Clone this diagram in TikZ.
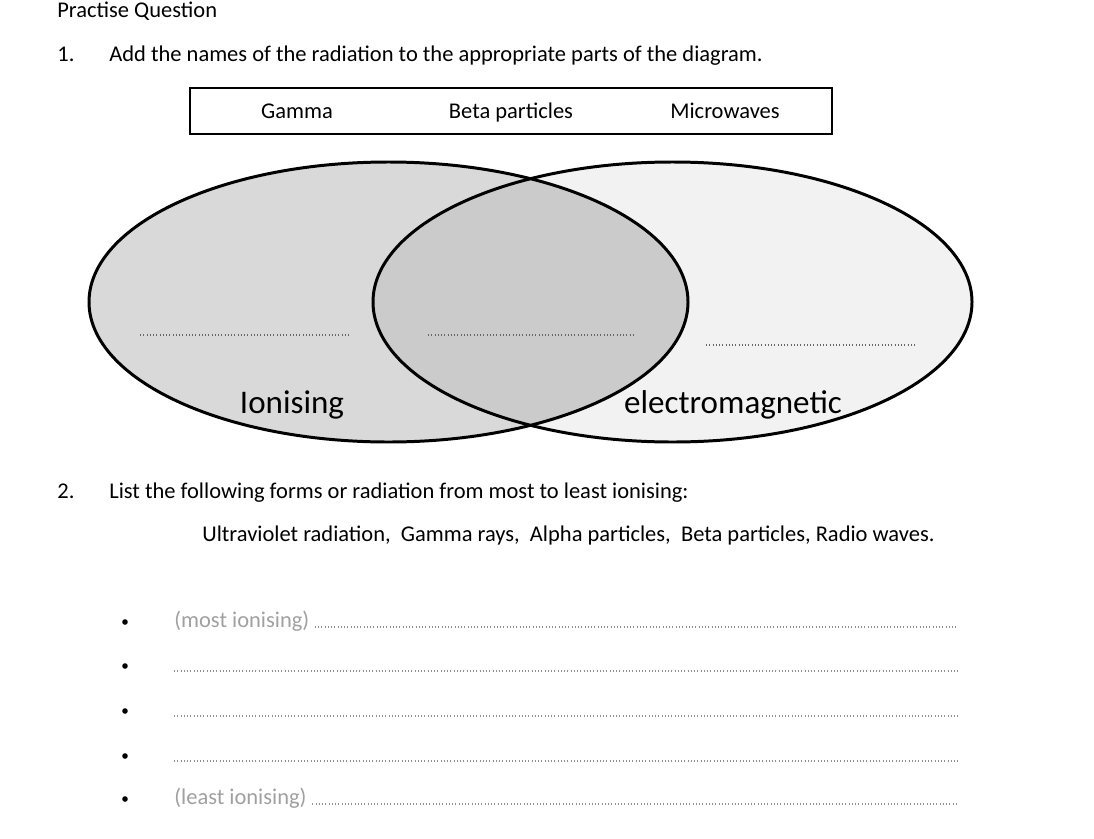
\documentclass[tikz,border=0pt]{standalone}
\usepackage{fontspec}
\setmainfont{Carlito}
\definecolor{leftset}{HTML}{D9D9D9}
\definecolor{rightset}{HTML}{F2F2F2}
\definecolor{overlapset}{HTML}{CBCBCB}
\definecolor{hintgray}{HTML}{A0A0A0}
\newcommand{\setcentres}{%
  \coordinate (L) at (388.5,302);
  \coordinate (R) at (672.5,302);
}
\def\answerrows{622,666,711,756,799}
\tikzset{
  qtext/.style={anchor=base west, inner sep=0pt, font=\fontsize{12.8}{15}\selectfont},
  boxlabel/.style={anchor=base, inner sep=0pt, font=\fontsize{12.8}{15}\selectfont},
  setlabel/.style={anchor=base, inner sep=0pt, font=\fontsize{18.8}{22}\selectfont},
  hint/.style={qtext, text=hintgray},
  choicebox/.style={draw=black, line width=1.1pt, minimum width=12.84cm, minimum height=0.92cm, inner sep=0pt},
  setline/.style={black, line width=1.7pt},
  answerline/.style={black!60, line width=0.7pt, dash pattern=on 0.55pt off 1.3pt},
  blank/.style={hintgray!90!black, line width=0.7pt, dash pattern=on 0.55pt off 1.3pt},
}

\begin{document}
\begin{tikzpicture}[x=0.02cm, y=-0.02cm]
  \useasboundingbox (0,0) rectangle (1094,838);

  % ---------------- question 1 ----------------
  \node[qtext] (title) at (57,18) {Practise Question};
  \node[qtext] (num1) at (57,62) {1.};
  \node[qtext] (q1) at (109,62) {Add the names of the radiation to the appropriate parts of the diagram.};

  \node[choicebox] (choices) at (511,111) {};
  \node[boxlabel] (gamma) at (297,118) {Gamma};
  \node[boxlabel] (beta) at (511,118) {Beta particles};
  \node[boxlabel] (micro) at (725,118) {Microwaves};

  % venn diagram
  \setcentres
  \fill[rightset] (R) ellipse [x radius=299.5, y radius=140];
  \fill[leftset] (L) ellipse [x radius=299.5, y radius=140];
  \begin{scope}
    \clip (L) ellipse [x radius=299.5, y radius=140];
    \fill[overlapset] (R) ellipse [x radius=299.5, y radius=140];
  \end{scope}
  \draw[setline] (L) ellipse [x radius=299.5, y radius=140];
  \draw[setline] (R) ellipse [x radius=299.5, y radius=140];

  \draw[answerline] (140,335) -- (351,335);
  \draw[answerline] (428,335) -- (635,335);
  \draw[answerline] (706,345) -- (915,345);

  \node[setlabel] (ionising) at (292,413) {Ionising};
  \node[setlabel] (em) at (733,413) {electromagnetic};

  % ---------------- question 2 ----------------
  \node[qtext] (num2) at (57,498) {2.};
  \node[qtext] (q2) at (109,498) {List the following forms or radiation from most to least ionising:};
  \node[qtext] (forms) at (202,541) {Ultraviolet radiation,\ \ Gamma rays,\ \ Alpha particles,\ \ Beta particles, Radio waves.};

  \foreach \y [count=\i] in \answerrows {
    \fill[black] (125,\y) circle (2.8);
    \coordinate (start\i) at (174,\y+5);
    \coordinate (end\i) at (958,\y+5);
  }
  \node[hint] (most) at (start1) {(most ionising)};
  \node[hint] (least) at (start5) {(least ionising)};
  \draw[blank] ([xshift=3pt]most.base east) -- (end1);
  \foreach \i in {2,3,4} { \draw[blank] (start\i) -- (end\i); }
  \draw[blank] ([xshift=3pt]least.base east) -- (end5);
\end{tikzpicture}
\end{document}
